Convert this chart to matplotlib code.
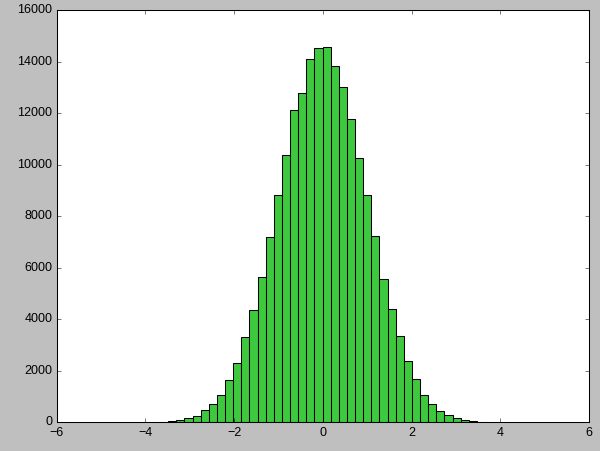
import matplotlib
matplotlib.use("Agg")
import matplotlib.pyplot as plt
import numpy as np

plt.style.use("classic")
plt.rcParams["font.family"] = ["Liberation Sans", "DejaVu Sans"]

# Histogram data
bin_start = -3.671
bin_width = 0.18316
counts = [25, 45, 90, 172, 260, 466, 705, 1080, 1668, 2291,
          3333, 4362, 5656, 7196, 8840, 10368, 12127, 12787, 14122, 14522,
          14588, 13824, 13035, 11793, 10251, 8840, 7235, 5579, 4401, 3374,
          2375, 1670, 1080, 699, 454, 286, 161, 84, 42, 20]

xlim = (-6, 6)
ylim = (0, 16000)
xticks = [-6, -4, -2, 0, 2, 4, 6]
yticks = [0, 2000, 4000, 6000, 8000, 10000, 12000, 14000, 16000]

edges = bin_start + bin_width * np.arange(len(counts) + 1)
centers = 0.5 * (edges[:-1] + edges[1:])

fig = plt.figure(figsize=(8, 451 / 75), dpi=75, facecolor="#bfbfbf")
ax = fig.add_axes([0.0945, 0.0632, 0.8872, 0.914])
ax.hist(centers, bins=edges, weights=counts, color="#3ec83e",
        edgecolor="black", linewidth=1.0)
ax.set_xlim(*xlim)
ax.set_ylim(*ylim)
ax.set_xticks(xticks)
ax.set_yticks(yticks)
ax.tick_params(labelsize=12)
fig.savefig("out.png", dpi=75, facecolor=fig.get_facecolor())
